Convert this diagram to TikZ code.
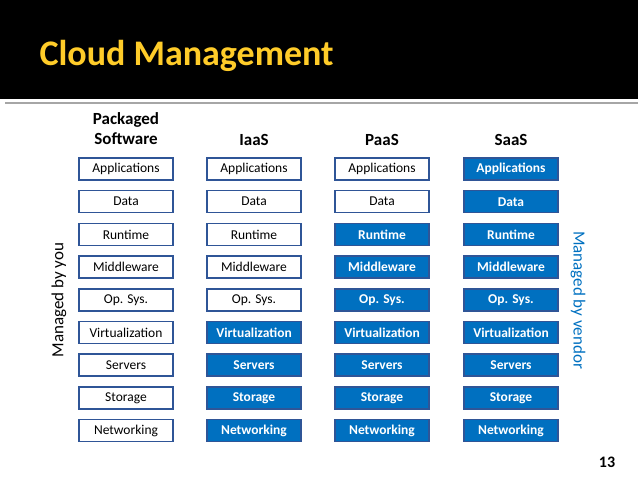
\documentclass[tikz,border=0pt]{standalone}
\usepackage{fontspec}
\setmainfont{Carlito}
\definecolor{edge}{HTML}{2F5597}
\definecolor{fillb}{HTML}{0070C0}
\definecolor{titley}{HTML}{FFCC29}
\begin{document}
\begin{tikzpicture}[x=1pt,y=-1pt,
  own/.style={draw=edge,line width=1.6pt,fill=white,minimum width=94pt,minimum height=22pt,inner sep=0pt,font=\fontsize{13.5}{15}\selectfont},
  ven/.style={draw=edge,line width=1.6pt,fill=fillb,text=white,minimum width=94pt,minimum height=22pt,inner sep=0pt,font=\fontsize{13.5}{15}\selectfont\bfseries},
  hd/.style={font=\fontsize{17}{20}\selectfont\bfseries,align=center}]
\useasboundingbox (0,0) rectangle (638,478);
\fill[black] (0,0) rectangle (638,99);
\draw[gray!70,line width=1.2pt] (5,103) -- (638,103);
\node[text=titley,font=\fontsize{36}{38}\selectfont\bfseries,anchor=west] (title) at (36,56) {Cloud Management};
\node[hd] (h1) at (126,129) {Packaged\\Software};
\node[hd] (h2) at (254,140) {IaaS};
\node[hd] (h3) at (382,140) {PaaS};
\node[hd] (h4) at (511,140) {SaaS};
\def\names{Applications,Data,Runtime,Middleware,Op. Sys.,Virtualization,Servers,Storage,Networking}
\foreach \t [count=\i] in \names {
  \pgfmathsetmacro\yy{169+(\i-1)*32.7}
  \node[own] (a\i) at (126,\yy) {\t};
  \ifnum\i>5 \node[ven] (b\i) at (254,\yy) {\t}; \else \node[own] (b\i) at (254,\yy) {\t}; \fi
  \ifnum\i>2 \node[ven] (c\i) at (382,\yy) {\t}; \else \node[own] (c\i) at (382,\yy) {\t}; \fi
  \node[ven] (d\i) at (511,\yy) {\t};
}
\node[rotate=90,font=\fontsize{17}{18}\selectfont] (my) at (59,300) {Managed by you};
\node[rotate=-90,text=fillb,font=\fontsize{17}{18}\selectfont] (mv) at (578,300) {Managed by vendor};
\node[font=\fontsize{16}{17}\selectfont\bfseries] (pg) at (607,462) {13};
\end{tikzpicture}
\end{document}
